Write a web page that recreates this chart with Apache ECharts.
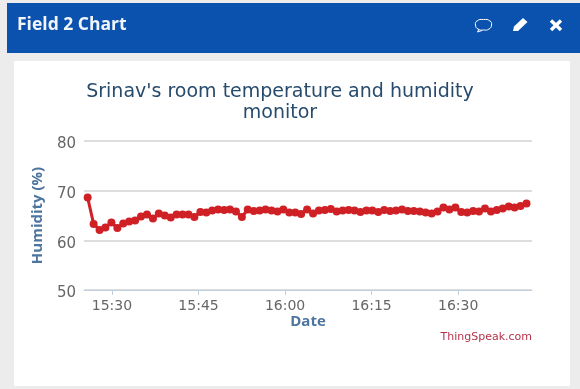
<!DOCTYPE html>
<html>
<head>
<meta charset="utf-8">
<style>
  html, body { margin: 0; padding: 0; background: #ececec; }
  #chart { width: 580px; height: 389px; }
</style>
<script src="https://cdn.jsdelivr.net/npm/echarts@6/dist/echarts.min.js"></script>
</head>
<body>
<div id="chart"></div>
<script>
// sample times, roughly one a minute
const times = [
  "15:25:47","15:26:49","15:27:51","15:28:52","15:29:54","15:30:56","15:31:57","15:32:59","15:34:01","15:35:02",
  "15:36:04","15:37:06","15:38:07","15:39:09","15:40:11","15:41:12","15:42:14","15:43:16","15:44:17","15:45:19",
  "15:46:21","15:47:22","15:48:24","15:49:26","15:50:27","15:51:29","15:52:31","15:53:32","15:54:34","15:55:36",
  "15:56:37","15:57:39","15:58:41","15:59:42","16:00:44","16:01:46","16:02:47","16:03:49","16:04:51","16:05:52",
  "16:06:54","16:07:56","16:08:57","16:09:59","16:11:01","16:12:02","16:13:04","16:14:06","16:15:07","16:16:09",
  "16:17:11","16:18:12","16:19:14","16:20:16","16:21:17","16:22:19","16:23:21","16:24:22","16:25:24","16:26:26",
  "16:27:27","16:28:29","16:29:31","16:30:32","16:31:34","16:32:36","16:33:37","16:34:39","16:35:41","16:36:42",
  "16:37:44","16:38:46","16:39:47","16:40:49","16:41:51"
];
const humidity = [
  68.6,63.3,62.1,62.6,63.6,62.5,63.4,63.8,64.0,64.8,
  65.2,64.4,65.4,65.0,64.6,65.2,65.2,65.2,64.7,65.7,
  65.6,66.0,66.2,66.1,66.2,65.8,64.7,66.2,65.9,66.0,
  66.2,66.0,65.8,66.2,65.6,65.6,65.3,66.2,65.4,66.0,
  66.1,66.3,65.8,66.0,66.1,66.0,65.7,66.0,66.0,65.7,
  66.1,65.9,66.0,66.2,65.9,65.9,65.8,65.6,65.4,65.8,
  66.6,66.2,66.6,65.7,65.6,65.9,65.8,66.4,65.8,66.1,
  66.4,66.8,66.6,66.9,67.4
];
const xTicks = ["15:30","15:45","16:00","16:15","16:30"];
const yTicks = [50, 60, 70, 80];
const xStart = "15:25:09";
const xEnd = "16:42:48";

// minutes since midnight
function toMinutes(t) {
  const p = t.split(":").map(Number);
  return p[0] * 60 + p[1] + (p[2] || 0) / 60;
}
function fmtMinutes(v) {
  const h = Math.floor(v / 60);
  const m = Math.round(v - h * 60);
  return h + ":" + (m < 10 ? "0" + m : m);
}

const chart = echarts.init(document.getElementById("chart"));
const font = "'DejaVu Sans', sans-serif";

chart.setOption({
  animation: false,
  backgroundColor: "#ececec",
  graphic: [
    // outer window
    { type: "rect", z: 0, shape: { x: 7, y: 3, width: 573, height: 50 }, style: { fill: "#0b51ae" } },
    { type: "rect", z: 0, shape: { x: 14, y: 61, width: 556, height: 325 }, style: { fill: "#ffffff" } },
    { type: "text", z: 1, x: 17, y: 16, style: { text: "Field 2 Chart", fill: "#f2f6fb", font: "bold 17.5px 'Open Sans', sans-serif" } },
    // speech bubble
    { type: "polygon", z: 1, shape: { points: [[483.5, 19.5], [490, 21], [491.5, 25], [489, 29], [483.5, 30], [478, 29], [475.5, 25], [477, 21]], smooth: 0.6 }, style: { fill: "none", stroke: "#ffffff", lineWidth: 1 } },
    { type: "polyline", z: 1, shape: { points: [[479, 29], [477.5, 32], [482, 30.5]] }, style: { fill: "none", stroke: "#ffffff", lineWidth: 1 } },
    // pencil
    { type: "polygon", z: 1, shape: { points: [[513, 31], [514, 26.5], [523, 18], [527.5, 22], [518, 31]] }, style: { fill: "#ffffff" } },
    // close
    { type: "line", z: 1, shape: { x1: 551, y1: 20.5, x2: 561, y2: 30 }, style: { stroke: "#ffffff", lineWidth: 3.4 } },
    { type: "line", z: 1, shape: { x1: 561, y1: 20.5, x2: 551, y2: 30 }, style: { stroke: "#ffffff", lineWidth: 3.4 } },
    { type: "text", z: 5, right: 48, top: 332, style: { text: "ThingSpeak.com", fill: "#b5334a", font: "11px " + font } }
  ],
  title: {
    text: "Srinav's room temperature and humidity\nmonitor",
    left: 275,
    top: 77,
    textAlign: "center",
    textStyle: { color: "#274b6d", fontFamily: font, fontWeight: "normal", fontSize: 19, lineHeight: 21 }
  },
  grid: { left: 84, right: 48, top: 141, bottom: 99 },
  xAxis: {
    type: "value",
    min: toMinutes(xStart),
    max: toMinutes(xEnd),
    name: "Date",
    nameLocation: "middle",
    nameGap: 24,
    nameTextStyle: { color: "#4d759e", fontFamily: "'Open Sans', sans-serif", fontWeight: "bold", fontSize: 15 },
    axisLine: { show: true, lineStyle: { color: "#c0d0e0", width: 1 } },
    axisTick: { show: true, length: 5, lineStyle: { color: "#c0d0e0" }, customValues: xTicks.map(toMinutes) },
    axisLabel: {
      color: "#666666", fontFamily: font, fontSize: 14, margin: 9,
      customValues: xTicks.map(toMinutes),
      formatter: fmtMinutes
    },
    splitLine: { show: false }
  },
  yAxis: {
    type: "value",
    min: yTicks[0],
    max: yTicks[yTicks.length - 1],
    interval: 10,
    name: "Humidity (%)",
    nameLocation: "middle",
    nameGap: 39,
    nameTextStyle: { color: "#4d759e", fontFamily: "'Open Sans', sans-serif", fontWeight: "bold", fontSize: 15 },
    axisLine: { show: false },
    axisTick: { show: false },
    axisLabel: { color: "#666666", fontFamily: font, fontSize: 15, margin: 8, verticalAlign: "top", lineHeight: 7 },
    splitLine: { show: true, lineStyle: { color: "#d2d2d2", width: 1.5 } }
  },
  series: [{
    type: "line",
    data: times.map((t, i) => [toMinutes(t), humidity[i]]),
    symbol: "circle",
    symbolSize: 8,
    showAllSymbol: true,
    lineStyle: { color: "#cf2026", width: 3 },
    itemStyle: { color: "#cf2026" }
  }]
});
</script>
</body>
</html>
